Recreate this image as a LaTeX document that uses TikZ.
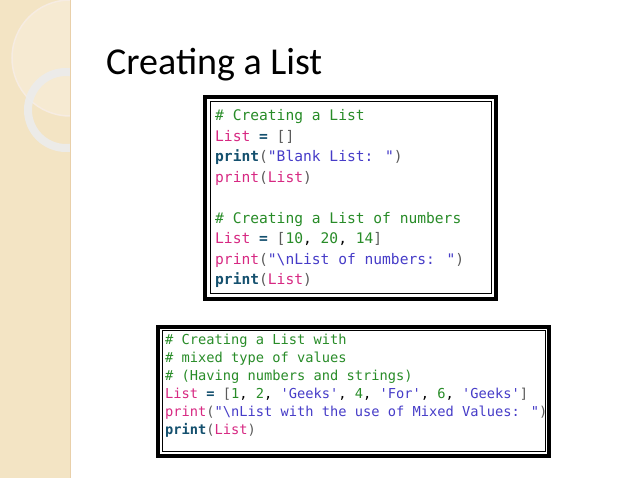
\documentclass[tikz,border=0pt]{standalone}
\usepackage{fontspec}
\setmainfont{Carlito}
\newfontfamily\codefont{DejaVu Sans Mono}
\definecolor{beige}{RGB}{243,228,196}
\definecolor{cmt}{RGB}{40,140,40}
\definecolor{pk}{RGB}{215,40,130}
\definecolor{kw}{RGB}{20,80,110}
\definecolor{st}{RGB}{70,60,200}
\definecolor{br}{RGB}{90,90,90}
\definecolor{num}{RGB}{40,140,40}
\newcommand\Cm[1]{\textcolor{cmt}{#1}}
\newcommand\Ls{\textcolor{pk}{List}}
\newcommand\Eq{\textcolor{kw}{\bfseries =}}
\newcommand\Pb{\textcolor{kw}{\bfseries print}}
\newcommand\Pp{\textcolor{pk}{print}}
\newcommand\St[1]{\textcolor{st}{#1}}
\newcommand\Nm[1]{\textcolor{num}{#1}}
\newcommand\Br[1]{\textcolor{br}{#1}}
\newcommand\dq{\char34}
\newcommand\sq{\char39}
\tikzset{
  codeA/.style={anchor=base west,inner sep=0pt,font=\codefont\fontsize{14.6}{17}\selectfont},
  codeB/.style={anchor=base west,inner sep=0pt,font=\codefont\fontsize{13.7}{16}\selectfont},
}
\begin{document}
\begin{tikzpicture}[x=1pt,y=-1pt]
\useasboundingbox (0,0) rectangle (638,478);
\fill[white] (0,0) rectangle (638,478);
\fill[beige] (0,0) rectangle (70,478);
\begin{scope}
\clip (0,0) rectangle (70,478);
\fill[white,opacity=0.25] (70,58) circle (58);
\draw[white!85!brown,line width=1.5] (70,58) circle (58);
\draw[white!85!gray,opacity=0.9,line width=8] (66,110) circle (38);
\end{scope}
\draw[beige!80!brown,line width=1] (70,0) -- (70,478);
\node[anchor=base west,inner sep=0pt,font=\fontsize{38}{40}\selectfont] (title) at (106,75) {Creating a List};
% box 1
\draw[line width=4] (205,97) rectangle (496,299);
\draw[line width=1] (210,102) rectangle (491,294);
\node[codeA] (a1) at (215,121) {\Cm{\# Creating a List}};
\node[codeA] (a2) at (215,141.5) {\Ls{} \Eq{} \Br{[]}};
\node[codeA] (a3) at (215,162) {\Pb\Br{(}\St{\dq Blank List: \dq}\Br{)}};
\node[codeA] (a4) at (215,182.5) {\Pp\Br{(}\Ls\Br{)}};
\node[codeA] (a5) at (215,223.5) {\Cm{\# Creating a List of numbers}};
\node[codeA] (a6) at (215,244) {\Ls{} \Eq{} \Br{[}\Nm{10}, \Nm{20}, \Nm{14}\Br{]}};
\node[codeA] (a7) at (215,264.5) {\Pp\Br{(}\St{\dq\textbackslash nList of numbers: \dq}\Br{)}};
\node[codeA] (a8) at (215,285) {\Pb\Br{(}\Ls\Br{)}};
% box 2
\draw[line width=4] (158,327) rectangle (549,456);
\draw[line width=1] (162,331) rectangle (545,452);
\node[codeB] (b1) at (165,345) {\Cm{\# Creating a List with}};
\node[codeB] (b2) at (165,363) {\Cm{\# mixed type of values}};
\node[codeB] (b3) at (165,381) {\Cm{\# (Having numbers and strings)}};
\node[codeB] (b4) at (165,399) {\Ls{} \Eq{} \Br{[}\Nm{1}, \Nm{2}, \St{\sq Geeks\sq}, \Nm{4}, \St{\sq For\sq}, \Nm{6}, \St{\sq Geeks\sq}\Br{]}};
\node[codeB] (b5) at (165,417) {\Pp\Br{(}\St{\dq\textbackslash nList with the use of Mixed Values: \dq}\Br{)}};
\node[codeB] (b6) at (165,435) {\Pb\Br{(}\Ls\Br{)}};
\end{tikzpicture}
\end{document}
